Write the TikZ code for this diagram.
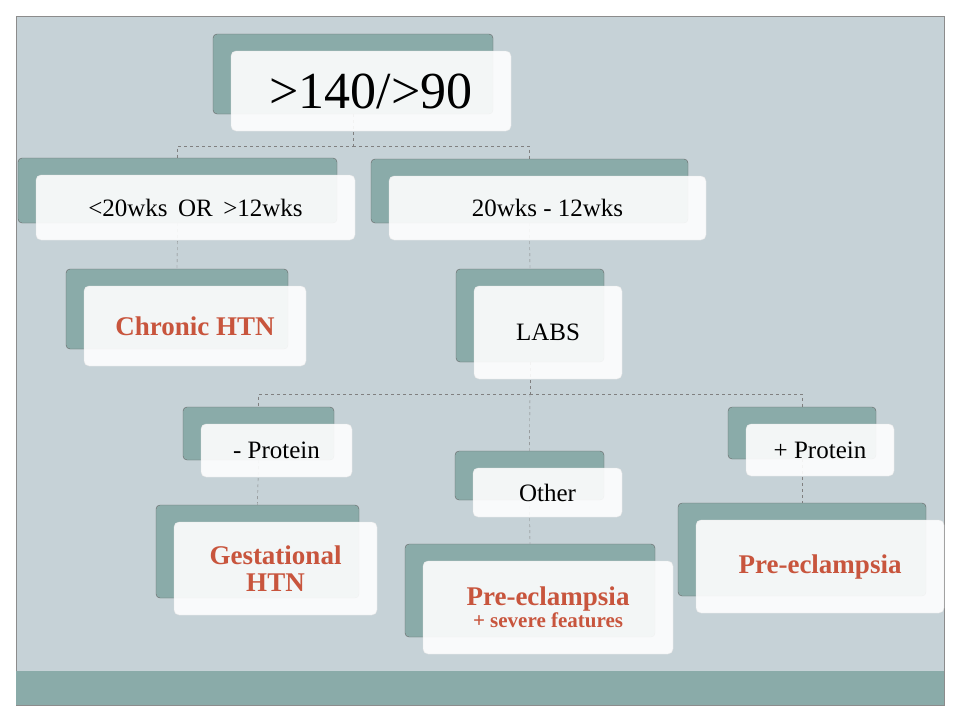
\documentclass[tikz,border=0pt]{standalone}
\usepackage{fontspec}
\setmainfont{Liberation Serif}
\usetikzlibrary{backgrounds}
\definecolor{panel}{HTML}{C6D2D7}
\definecolor{teal}{HTML}{8AABA9}
\definecolor{redtxt}{HTML}{C8553D}
\tikzstyle{backbox} = [rectangle, draw=black!60, fill=teal, rounded corners=4pt, inner sep=0pt]
\tikzstyle{frontbox} = [rectangle, draw=white!80!gray, fill=white, fill opacity=0.9, text opacity=1,
    rounded corners=5pt, inner sep=0pt, align=center, font=\fontsize{25}{27}\selectfont]
\tikzstyle{hot} = [text=redtxt, font=\fontsize{27}{27}\selectfont\bfseries]
\tikzstyle{line} = [draw=black!50, dashed, thin]
% \twobox{name}{cx}{cy}{w}{h}{style}{text}
\newcommand{\twobox}[7]{%
  \node [backbox, minimum width=#4pt, minimum height=#5pt] (#1b) at (#2-18,#3-17) {};
  \node [frontbox, minimum width=#4pt, minimum height=#5pt, #6] (#1) at (#2,#3) {#7};}
\begin{document}
\begin{tikzpicture}[x=1pt,y=-1pt]
    \useasboundingbox (0,0) rectangle (960,720);

    \twobox{top}{371}{91}{280}{80}{font=\fontsize{52}{54}\selectfont}{>140/>90}
    \twobox{early}{195.5}{207.5}{319}{65}{}{<20wks\, OR\, >12wks}
    \twobox{mid}{547.5}{208}{317}{64}{}{20wks - 12wks}
    \twobox{chronic}{195}{326}{222}{80}{hot}{Chronic HTN}
    \twobox{labs}{548}{332.5}{148}{93}{}{LABS}
    \twobox{minus}{276.5}{450.5}{151}{53}{}{- Protein}
    \twobox{other}{547.5}{492.5}{149}{49}{}{Other}
    \twobox{plus}{820}{450}{148}{52}{}{+ Protein}
    \twobox{gest}{275.5}{568.5}{203}{93}{hot}{Gestational\\HTN}
    \twobox{severe}{548}{607.5}{250}{93}{hot}{Pre-eclampsia\\[-5pt]{\fontsize{21}{21}\selectfont + severe features}}
    \twobox{pre}{820}{566.5}{248}{93}{hot}{Pre-eclampsia}

    % Draw edges
    \begin{pgfonlayer}{background}
    \draw [black!45, fill=panel] (16,16) rectangle (944,705);
    \fill [teal] (16,671) rectangle (944,705);
    \path [line] (topb.south) -- (topb.south |- 0,146) -| (earlyb.north);
    \path [line] (topb.south |- 0,146) -| (midb.north);
    \path [line] (earlyb.south) -- (chronicb.north);
    \path [line] (midb.south) -- (labsb.north);
    \path [line] (labsb.south) -- (labsb.south |- 0,394) -| (minusb.north);
    \path [line] (labsb.south |- 0,394) -| (plusb.north);
    \path [line] (labsb.south |- 0,394) -- (otherb.north);
    \path [line] (minusb.south) -- (gestb.north);
    \path [line] (otherb.south) -- (severeb.north);
    \path [line] (plusb.south) -- (preb.north);
    \end{pgfonlayer}
\end{tikzpicture}
\end{document}
